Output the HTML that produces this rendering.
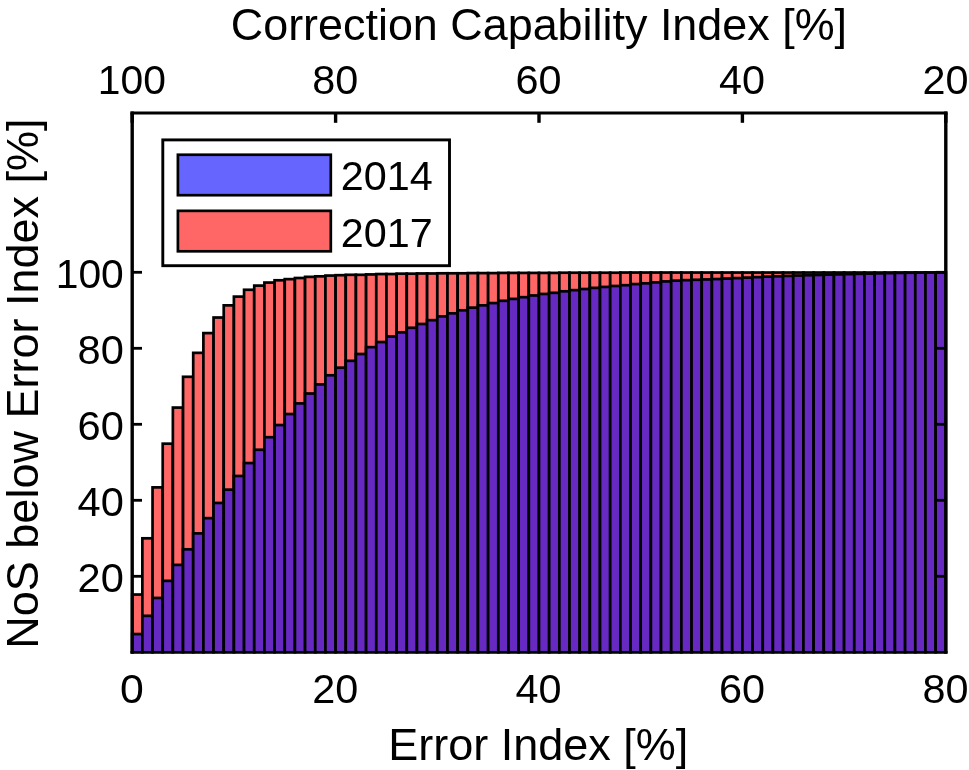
<!DOCTYPE html>
<html lang="en"><head><meta charset="utf-8"><title>Correction Capability Index</title>
<style>
html,body{margin:0;padding:0;background:#fff;}
body{width:969px;height:770px;overflow:hidden;}
svg{display:block;}
text{font-family:"Liberation Sans",sans-serif;fill:#000;}
.bar{stroke:#000;stroke-width:2.7;stroke-linejoin:miter;}
.ax{stroke:#000;stroke-width:3.0;fill:none;stroke-linecap:butt;}
</style></head><body>
<svg width="969" height="770" viewBox="0 0 969 770">
<rect x="0" y="0" width="969" height="770" fill="#ffffff"/>

<defs><clipPath id="cp"><rect x="0" y="0" width="969" height="653.5"/></clipPath></defs>
<g clip-path="url(#cp)">
<g class="bar" fill="#FF6666">
<rect x="132.2" y="594.54" width="10.17" height="57.76"/>
<rect x="142.37" y="538.3" width="10.17" height="114"/>
<rect x="152.54" y="487.38" width="10.17" height="164.92"/>
<rect x="162.71" y="443.68" width="10.17" height="208.62"/>
<rect x="172.88" y="407.58" width="10.17" height="244.72"/>
<rect x="183.05" y="376.8" width="10.17" height="275.5"/>
<rect x="193.22" y="352.86" width="10.17" height="299.44"/>
<rect x="203.39" y="333.1" width="10.17" height="319.2"/>
<rect x="213.56" y="317.52" width="10.17" height="334.78"/>
<rect x="223.73" y="305.36" width="10.17" height="346.94"/>
<rect x="233.9" y="296.62" width="10.17" height="355.68"/>
<rect x="244.07" y="289.78" width="10.17" height="362.52"/>
<rect x="254.24" y="285.6" width="10.17" height="366.7"/>
<rect x="264.41" y="282.56" width="10.17" height="369.74"/>
<rect x="274.58" y="280.28" width="10.17" height="372.02"/>
<rect x="284.75" y="279.14" width="10.17" height="373.16"/>
<rect x="294.92" y="278" width="10.17" height="374.3"/>
<rect x="305.09" y="276.86" width="10.17" height="375.44"/>
<rect x="315.26" y="276.33" width="10.17" height="375.97"/>
<rect x="325.43" y="275.57" width="10.17" height="376.73"/>
<rect x="335.6" y="275.19" width="10.17" height="377.11"/>
<rect x="345.77" y="274.81" width="10.17" height="377.49"/>
<rect x="355.94" y="274.81" width="10.17" height="377.49"/>
<rect x="366.11" y="274.43" width="10.17" height="377.87"/>
<rect x="376.28" y="274.05" width="10.17" height="378.25"/>
<rect x="386.45" y="274.05" width="10.17" height="378.25"/>
<rect x="396.62" y="273.67" width="10.17" height="378.63"/>
<rect x="406.79" y="273.67" width="10.17" height="378.63"/>
<rect x="416.96" y="273.48" width="10.17" height="378.82"/>
<rect x="427.13" y="273.48" width="10.17" height="378.82"/>
<rect x="437.3" y="273.29" width="10.17" height="379.01"/>
<rect x="447.47" y="273.29" width="10.17" height="379.01"/>
<rect x="457.64" y="273.29" width="10.17" height="379.01"/>
<rect x="467.81" y="273.1" width="10.17" height="379.2"/>
<rect x="477.98" y="273.1" width="10.17" height="379.2"/>
<rect x="488.15" y="273.1" width="10.17" height="379.2"/>
<rect x="498.32" y="272.91" width="10.17" height="379.39"/>
<rect x="508.49" y="272.91" width="10.17" height="379.39"/>
<rect x="518.66" y="272.91" width="10.17" height="379.39"/>
<rect x="528.83" y="272.91" width="10.17" height="379.39"/>
<rect x="539" y="272.91" width="10.17" height="379.39"/>
<rect x="549.17" y="272.91" width="10.17" height="379.39"/>
<rect x="559.34" y="272.72" width="10.17" height="379.58"/>
<rect x="569.51" y="272.72" width="10.17" height="379.58"/>
<rect x="579.68" y="272.72" width="10.17" height="379.58"/>
<rect x="589.85" y="272.72" width="10.17" height="379.58"/>
<rect x="600.02" y="272.72" width="10.17" height="379.58"/>
<rect x="610.19" y="272.72" width="10.17" height="379.58"/>
<rect x="620.36" y="272.53" width="10.17" height="379.77"/>
<rect x="630.53" y="272.53" width="10.17" height="379.77"/>
<rect x="640.7" y="272.53" width="10.17" height="379.77"/>
<rect x="650.87" y="272.53" width="10.17" height="379.77"/>
<rect x="661.04" y="272.53" width="10.17" height="379.77"/>
<rect x="671.21" y="272.53" width="10.17" height="379.77"/>
<rect x="681.38" y="272.53" width="10.17" height="379.77"/>
<rect x="691.55" y="272.53" width="10.17" height="379.77"/>
<rect x="701.72" y="272.53" width="10.17" height="379.77"/>
<rect x="711.89" y="272.53" width="10.17" height="379.77"/>
<rect x="722.06" y="272.53" width="10.17" height="379.77"/>
<rect x="732.23" y="272.53" width="10.17" height="379.77"/>
<rect x="742.4" y="272.53" width="10.17" height="379.77"/>
<rect x="752.57" y="272.53" width="10.17" height="379.77"/>
<rect x="762.74" y="272.53" width="10.17" height="379.77"/>
<rect x="772.91" y="272.53" width="10.17" height="379.77"/>
<rect x="783.08" y="272.53" width="10.17" height="379.77"/>
<rect x="793.25" y="272.53" width="10.17" height="379.77"/>
<rect x="803.42" y="272.53" width="10.17" height="379.77"/>
<rect x="813.59" y="272.53" width="10.17" height="379.77"/>
<rect x="823.76" y="272.53" width="10.17" height="379.77"/>
<rect x="833.93" y="272.53" width="10.17" height="379.77"/>
<rect x="844.1" y="272.53" width="10.17" height="379.77"/>
<rect x="854.27" y="272.53" width="10.17" height="379.77"/>
<rect x="864.44" y="272.53" width="10.17" height="379.77"/>
<rect x="874.61" y="272.53" width="10.17" height="379.77"/>
<rect x="884.78" y="272.53" width="10.17" height="379.77"/>
<rect x="894.95" y="272.53" width="10.17" height="379.77"/>
<rect x="905.12" y="272.53" width="10.17" height="379.77"/>
<rect x="915.29" y="272.53" width="10.17" height="379.77"/>
<rect x="925.46" y="272.53" width="10.17" height="379.77"/>
<rect x="935.63" y="272.53" width="10.17" height="379.77"/>
</g>
<g class="bar" fill="#6629C2">
<rect x="132.2" y="634.06" width="10.17" height="18.24"/>
<rect x="142.37" y="615.82" width="10.17" height="36.48"/>
<rect x="152.54" y="597.96" width="10.17" height="54.34"/>
<rect x="162.71" y="580.86" width="10.17" height="71.44"/>
<rect x="172.88" y="564.9" width="10.17" height="87.4"/>
<rect x="183.05" y="549.32" width="10.17" height="102.98"/>
<rect x="193.22" y="533.36" width="10.17" height="118.94"/>
<rect x="203.39" y="518.16" width="10.17" height="134.14"/>
<rect x="213.56" y="502.96" width="10.17" height="149.34"/>
<rect x="223.73" y="489.66" width="10.17" height="162.64"/>
<rect x="233.9" y="475.98" width="10.17" height="176.32"/>
<rect x="244.07" y="463.06" width="10.17" height="189.24"/>
<rect x="254.24" y="449.76" width="10.17" height="202.54"/>
<rect x="264.41" y="437.22" width="10.17" height="215.08"/>
<rect x="274.58" y="425.06" width="10.17" height="227.24"/>
<rect x="284.75" y="414.04" width="10.17" height="238.26"/>
<rect x="294.92" y="403.4" width="10.17" height="248.9"/>
<rect x="305.09" y="393.52" width="10.17" height="258.78"/>
<rect x="315.26" y="384.4" width="10.17" height="267.9"/>
<rect x="325.43" y="375.28" width="10.17" height="277.02"/>
<rect x="335.6" y="367.68" width="10.17" height="284.62"/>
<rect x="345.77" y="360.84" width="10.17" height="291.46"/>
<rect x="355.94" y="354" width="10.17" height="298.3"/>
<rect x="366.11" y="347.16" width="10.17" height="305.14"/>
<rect x="376.28" y="342.03" width="10.17" height="310.27"/>
<rect x="386.45" y="336.52" width="10.17" height="315.78"/>
<rect x="396.62" y="332.34" width="10.17" height="319.96"/>
<rect x="406.79" y="327.78" width="10.17" height="324.52"/>
<rect x="416.96" y="323.98" width="10.17" height="328.32"/>
<rect x="427.13" y="320.18" width="10.17" height="332.12"/>
<rect x="437.3" y="316.38" width="10.17" height="335.92"/>
<rect x="447.47" y="313.34" width="10.17" height="338.96"/>
<rect x="457.64" y="310.3" width="10.17" height="342"/>
<rect x="467.81" y="307.64" width="10.17" height="344.66"/>
<rect x="477.98" y="305.36" width="10.17" height="346.94"/>
<rect x="488.15" y="303.08" width="10.17" height="349.22"/>
<rect x="498.32" y="300.8" width="10.17" height="351.5"/>
<rect x="508.49" y="298.9" width="10.17" height="353.4"/>
<rect x="518.66" y="297.19" width="10.17" height="355.11"/>
<rect x="528.83" y="295.48" width="10.17" height="356.82"/>
<rect x="539" y="293.96" width="10.17" height="358.34"/>
<rect x="549.17" y="292.82" width="10.17" height="359.48"/>
<rect x="559.34" y="291.3" width="10.17" height="361"/>
<rect x="569.51" y="290.16" width="10.17" height="362.14"/>
<rect x="579.68" y="289.02" width="10.17" height="363.28"/>
<rect x="589.85" y="287.88" width="10.17" height="364.42"/>
<rect x="600.02" y="286.93" width="10.17" height="365.37"/>
<rect x="610.19" y="285.98" width="10.17" height="366.32"/>
<rect x="620.36" y="285.22" width="10.17" height="367.08"/>
<rect x="630.53" y="284.08" width="10.17" height="368.22"/>
<rect x="640.7" y="283.32" width="10.17" height="368.98"/>
<rect x="650.87" y="282.37" width="10.17" height="369.93"/>
<rect x="661.04" y="281.42" width="10.17" height="370.88"/>
<rect x="671.21" y="280.66" width="10.17" height="371.64"/>
<rect x="681.38" y="280.17" width="10.17" height="372.13"/>
<rect x="691.55" y="279.79" width="10.17" height="372.51"/>
<rect x="701.72" y="279.44" width="10.17" height="372.86"/>
<rect x="711.89" y="279.06" width="10.17" height="373.24"/>
<rect x="722.06" y="278.57" width="10.17" height="373.73"/>
<rect x="732.23" y="278.11" width="10.17" height="374.19"/>
<rect x="742.4" y="277.62" width="10.17" height="374.68"/>
<rect x="752.57" y="277.16" width="10.17" height="375.14"/>
<rect x="762.74" y="276.67" width="10.17" height="375.63"/>
<rect x="772.91" y="276.29" width="10.17" height="376.01"/>
<rect x="783.08" y="275.91" width="10.17" height="376.39"/>
<rect x="793.25" y="275.53" width="10.17" height="376.77"/>
<rect x="803.42" y="275.26" width="10.17" height="377.04"/>
<rect x="813.59" y="274.96" width="10.17" height="377.34"/>
<rect x="823.76" y="274.66" width="10.17" height="377.64"/>
<rect x="833.93" y="274.39" width="10.17" height="377.91"/>
<rect x="844.1" y="274.12" width="10.17" height="378.18"/>
<rect x="854.27" y="273.82" width="10.17" height="378.48"/>
<rect x="864.44" y="273.59" width="10.17" height="378.71"/>
<rect x="874.61" y="273.36" width="10.17" height="378.94"/>
<rect x="884.78" y="273.14" width="10.17" height="379.16"/>
<rect x="894.95" y="272.91" width="10.17" height="379.39"/>
<rect x="905.12" y="272.76" width="10.17" height="379.54"/>
<rect x="915.29" y="272.64" width="10.17" height="379.66"/>
<rect x="925.46" y="272.57" width="10.17" height="379.73"/>
<rect x="935.63" y="272.53" width="10.17" height="379.77"/>
</g>
</g>
<g stroke="#000" stroke-linecap="butt">
<line x1="130.5" y1="113" x2="947.5" y2="113" stroke-width="3.1"/>
<line x1="130.5" y1="652.25" x2="947.5" y2="652.25" stroke-width="2.5"/>
<line x1="132.2" y1="111.45" x2="132.2" y2="653.85" stroke-width="3.4"/>
<line x1="945.8" y1="111.45" x2="945.8" y2="653.85" stroke-width="3.4"/>
</g>
<g class="ax" style="stroke-width:2.8">
<line x1="132.2" y1="576.3" x2="142" y2="576.3"/>
<line x1="945.8" y1="576.3" x2="936" y2="576.3"/>
<line x1="132.2" y1="500.3" x2="142" y2="500.3"/>
<line x1="945.8" y1="500.3" x2="936" y2="500.3"/>
<line x1="132.2" y1="424.3" x2="142" y2="424.3"/>
<line x1="945.8" y1="424.3" x2="936" y2="424.3"/>
<line x1="132.2" y1="348.3" x2="142" y2="348.3"/>
<line x1="945.8" y1="348.3" x2="936" y2="348.3"/>
<line x1="132.2" y1="272.3" x2="142" y2="272.3"/>
<line x1="945.8" y1="272.3" x2="936" y2="272.3"/>
<line style="stroke-width:3.4" x1="132.2" y1="113" x2="132.2" y2="122.8"/>
<line style="stroke-width:3.4" x1="335.6" y1="113" x2="335.6" y2="122.8"/>
<line style="stroke-width:3.4" x1="539" y1="113" x2="539" y2="122.8"/>
<line style="stroke-width:3.4" x1="742.4" y1="113" x2="742.4" y2="122.8"/>
<line style="stroke-width:3.4" x1="945.8" y1="113" x2="945.8" y2="122.8"/>
</g>
<rect x="162.8" y="139.9" width="286.7" height="125.8" fill="#fff" stroke="#000" stroke-width="2.9"/>
<rect class="bar" x="177.9" y="154.75" width="152.9" height="40.45" fill="#6666FF"/>
<rect class="bar" x="177.9" y="210.85" width="152.9" height="40.45" fill="#FF6666"/>
<text transform="translate(538.9,40) scale(0.9980,1.0000)" font-size="45" text-anchor="middle">Correction Capability Index [%]</text>
<text transform="translate(131.8,93.8) scale(1.0200,1.0000)" font-size="40" text-anchor="middle">100</text>
<text transform="translate(335.2,93.8) scale(1.0350,1.0000)" font-size="40" text-anchor="middle">80</text>
<text transform="translate(538.6,93.8) scale(1.0350,1.0000)" font-size="40" text-anchor="middle">60</text>
<text transform="translate(742,93.8) scale(1.0350,1.0000)" font-size="40" text-anchor="middle">40</text>
<text transform="translate(945.4,93.8) scale(1.0350,1.0000)" font-size="40" text-anchor="middle">20</text>
<text transform="translate(131.8,702.7) scale(1.0700,1.0000)" font-size="40" text-anchor="middle">0</text>
<text transform="translate(335.2,702.7) scale(1.0350,1.0000)" font-size="40" text-anchor="middle">20</text>
<text transform="translate(538.6,702.7) scale(1.0350,1.0000)" font-size="40" text-anchor="middle">40</text>
<text transform="translate(742,702.7) scale(1.0350,1.0000)" font-size="40" text-anchor="middle">60</text>
<text transform="translate(945.4,702.7) scale(1.0350,1.0000)" font-size="40" text-anchor="middle">80</text>
<text transform="translate(123.8,591.9) scale(1.0400,1.0000)" font-size="40" text-anchor="end">20</text>
<text transform="translate(123.8,515.9) scale(1.0400,1.0000)" font-size="40" text-anchor="end">40</text>
<text transform="translate(123.8,439.9) scale(1.0400,1.0000)" font-size="40" text-anchor="end">60</text>
<text transform="translate(123.8,363.9) scale(1.0400,1.0000)" font-size="40" text-anchor="end">80</text>
<text transform="translate(123.8,287.9) scale(1.0200,1.0000)" font-size="40" text-anchor="end">100</text>
<text transform="translate(538.3,760) scale(1.0000,1.0000)" font-size="45" text-anchor="middle">Error Index [%]</text>
<text transform="translate(38.2,383.6) rotate(-90) scale(1.0000,1.0000)" font-size="45" text-anchor="middle">NoS below Error Index [%]</text>
<text transform="translate(340.8,190) scale(1.0340,1.0000)" font-size="40" text-anchor="start">2014</text>
<text transform="translate(340.8,246.7) scale(1.0340,1.0000)" font-size="40" text-anchor="start">2017</text>
</svg>
</body></html>
